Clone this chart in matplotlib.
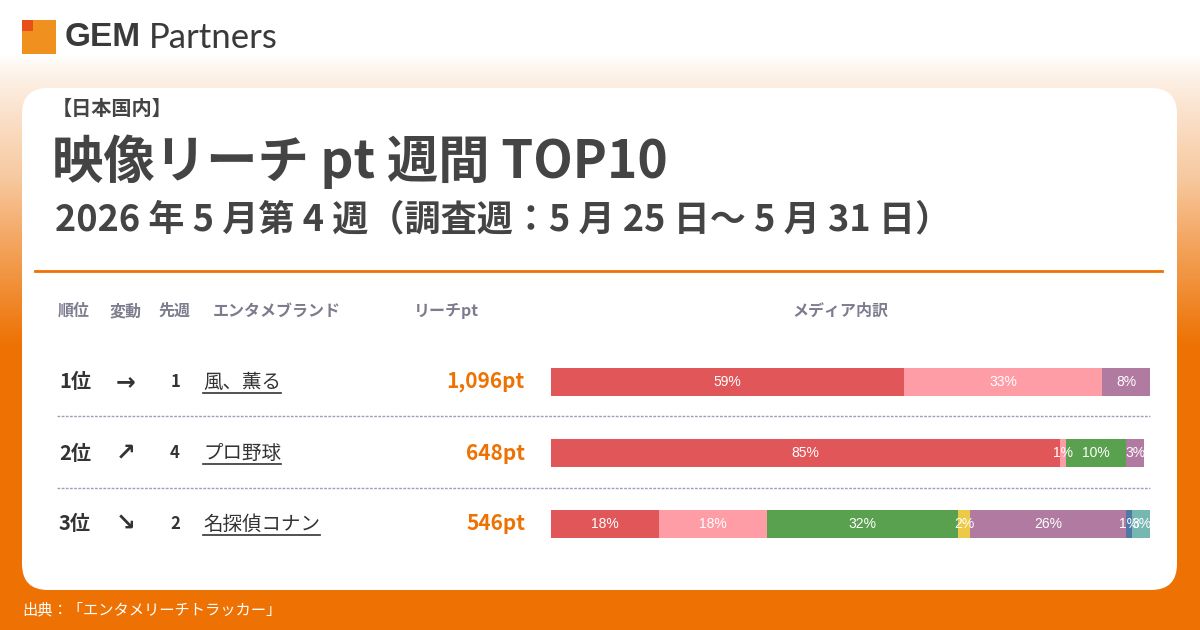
import numpy as np
import matplotlib
matplotlib.use("Agg")
import matplotlib.pyplot as plt
from matplotlib.patches import FancyBboxPatch, Rectangle
from matplotlib.colors import LinearSegmentedColormap

plt.rcParams['font.family'] = ['Noto Sans CJK JP', 'DejaVu Sans']

# data
ranks = ["1位", "2位", "3位"]
moves = ["→", "↗", "↘"]
last_week = ["1", "4", "2"]
brands = ["風、薫る", "プロ野球", "名探偵コナン"]
reach_pt = [1096, 648, 546]
media_colors = ["#E15759", "#FF9DA7", "#59A14F", "#EDC948", "#B07AA1", "#4E79A7", "#76B7B2"]
shares = [
    [59, 33, 0, 0, 8, 0, 0],
    [85, 1, 10, 0, 3, 0, 0],
    [18, 18, 32, 2, 26, 1, 3],
]

ORANGE = "#EE7203"
DARK = "#444444"
GRAY = "#7C7C8E"

W, H = 1200, 630
fig = plt.figure(figsize=(12, 6.3), dpi=100)

# full-canvas axes in pixel coords
bg = fig.add_axes([0, 0, 1, 1])
bg.set_xlim(0, W)
bg.set_ylim(H, 0)
bg.axis("off")

# background gradient white -> orange
yy = np.arange(H)
t = np.clip((yy - 55) / 290.0, 0, 1) ** 0.8
cmap = LinearSegmentedColormap.from_list("bg", ["#FFFFFF", "#F7C9A0", ORANGE])
bg.imshow(t[:, None], cmap=cmap, extent=(0, W, H, 0), aspect="auto", vmin=0, vmax=1, zorder=0)

# white card
card = FancyBboxPatch((22, 88), 1155, 502, boxstyle="round,pad=0,rounding_size=26",
                      fc="white", ec="none", zorder=1)
bg.add_patch(card)

# logo
bg.add_patch(Rectangle((22, 20), 34, 34, fc="#F0901E", ec="none", zorder=2))
bg.add_patch(Rectangle((22, 20), 11, 11, fc="#E8501A", ec="none", zorder=3))
bg.text(65, 38, "GEM", fontsize=24, fontweight="bold", color="#3A3A3A",
        va="center", ha="left", family=["Liberation Sans", "DejaVu Sans"], zorder=3)
bg.text(149, 38, "Partners", fontsize=25, color="#3A3A3A",
        va="center", ha="left", family=["Lato", "DejaVu Sans"], zorder=3)

# titles
bg.text(52, 108, "【日本国内】", fontsize=14.5, fontweight="bold", color=DARK, va="center", ha="left", zorder=3)
bg.text(52, 162, "映像リーチ pt 週間 TOP10", fontsize=37, fontweight="bold", color=DARK,
        va="center", ha="left", zorder=3)
bg.text(55, 220, "2026 年 5 月第 4 週（調査週：5 月 25 日～ 5 月 31 日）", fontsize=26, fontweight="bold",
        color=DARK, va="center", ha="left", zorder=3)

bg.plot([35, 1162], [271, 271], color=ORANGE, lw=2, zorder=3)

# column headers
hy = 311
for x, s, ha in [(58, "順位", "left"), (110, "変動", "left"), (158, "先週", "left"),
                 (213, "エンタメブランド", "left"), (446, "リーチpt", "center"),
                 (840, "メディア内訳", "center")]:
    bg.text(x, hy, s, fontsize=11.5, fontweight="bold", color=GRAY, va="center", ha=ha, zorder=3)

# row texts
row_y = [382, 453, 524]
brand_texts = []
for i, y in enumerate(row_y):
    bg.text(59, y, ranks[i], fontsize=14.5, fontweight="bold", color="#333333", va="center", ha="left", zorder=3)
    bg.text(126, y, moves[i], fontsize=17, fontweight="bold", color="#333333", va="center", ha="center",
            family=["DejaVu Sans"], zorder=3)
    bg.text(175, y, last_week[i], fontsize=12, fontweight="bold", color="#333333", va="center", ha="center", zorder=3)
    bt = bg.text(203, y, brands[i], fontsize=14, color="#333333", va="center", ha="left", zorder=3)
    brand_texts.append(bt)
    bg.text(525, y, f"{reach_pt[i]:,}pt", fontsize=15, fontweight="bold", color=ORANGE,
            va="center", ha="right", zorder=3)

# dotted separators
for y in [416, 488]:
    bg.plot([57, 1150], [y, y], color="#A0A0B4", lw=1, ls=(0, (2, 1)), zorder=3)

# footer
bg.text(22, 610, "出典：「エンタメリーチトラッカー」", fontsize=11, color="white", va="center", ha="left", zorder=3)

# underline brand names
fig.canvas.draw()
r = fig.canvas.get_renderer()
inv = bg.transData.inverted()
for bt, y in zip(brand_texts, row_y):
    bb = bt.get_window_extent(r)
    (ux0, _), (ux1, _) = inv.transform([[bb.x0, 0], [bb.x1, 0]])
    bg.plot([ux0, ux1], [y + 11, y + 11], color="#333333", lw=1.2, zorder=3)

# stacked bars
x0, x1 = 551, 1150
top, bot = 346.5, 559.5
ax = fig.add_axes([x0 / W, (H - bot) / H, (x1 - x0) / W, (bot - top) / H])
ax.set_xlim(0, 100)
ax.set_ylim(2.5, -0.5)
ax.axis("off")
ax.patch.set_alpha(0)
ypos = np.arange(len(brands))
left = np.zeros(len(brands))
data = np.array(shares, dtype=float)
for j, c in enumerate(media_colors):
    vals = data[:, j]
    ax.barh(ypos, vals, left=left, height=0.394, color=c, lw=0)
    for i in range(len(brands)):
        if vals[i] > 0:
            ax.text(left[i] + vals[i] / 2, ypos[i], f"{int(vals[i])}%", color="white", fontsize=10,
                    ha="center", va="center", family=["Liberation Sans", "DejaVu Sans"])
    left += vals

fig.savefig("out.png", dpi=100)
